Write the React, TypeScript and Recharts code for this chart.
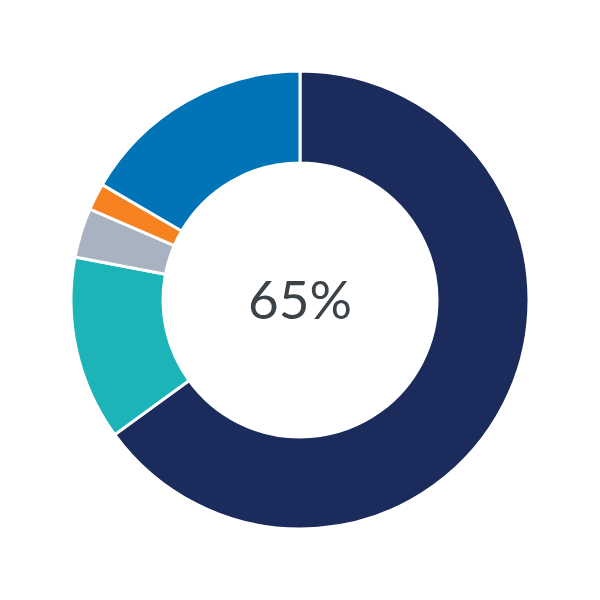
import React from "react";
import { PieChart, Pie, Cell } from "recharts";

const categories = ["A", "B", "C", "D", "E"];
const values = [65, 13, 3.5, 1.9, 16.6];
const colors = ["#1b2b5b", "#1cb4b6", "#a8b2c0", "#f5821f", "#0173b7"];
const centerLabel = "65%";

const data = categories.map((name, i) => ({ name, value: values[i] }));

export default function App() {
  return (
    <div style={{ position: "absolute", left: 0, top: 0, width: 600, height: 600, background: "#fff" }}>
      <PieChart width={600} height={600} margin={{ top: 0, right: 0, bottom: 0, left: 0 }}>
        <Pie
          data={data}
          dataKey="value"
          nameKey="name"
          cx={300}
          cy={300}
          innerRadius={137}
          outerRadius={229}
          startAngle={90}
          endAngle={-270}
          stroke="#ffffff"
          strokeWidth={3}
          isAnimationActive={false}
        >
          {data.map((d, i) => (
            <Cell key={d.name} fill={colors[i]} />
          ))}
        </Pie>
        <text
          x={300}
          y={298}
          textAnchor="middle"
          dominantBaseline="central"
          fontFamily="Lato"
          fontWeight={400}
          fontSize={53}
          fill="#3b4248"
        >
          {centerLabel}
        </text>
      </PieChart>
    </div>
  );
}
